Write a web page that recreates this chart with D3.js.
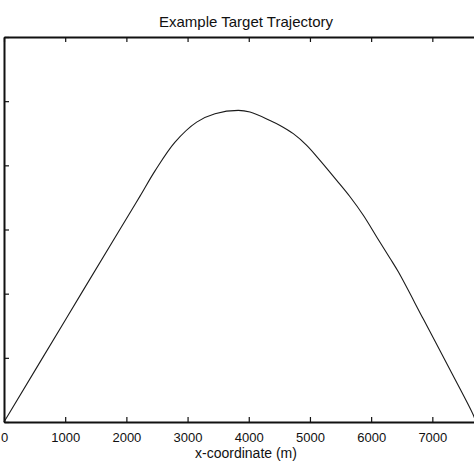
<!DOCTYPE html>
<html>
<head>
<meta charset="utf-8">
<script src="https://cdn.jsdelivr.net/npm/d3@7"></script>
<style>
  html, body { margin: 0; padding: 0; background: #fff; overflow: hidden; }
  svg { display: block; }
  text { font-family: "Liberation Sans", Arial, Helvetica, sans-serif; fill: #111; }
</style>
</head>
<body>
<script>
// ---- data ----
const title = "Example Target Trajectory";
const xLabel = "x-coordinate (m)";
const xTicks = [0, 1000, 2000, 3000, 4000, 5000, 6000, 7000];
const yTicks = [0, 500, 1000, 1500, 2000, 2500, 3000];
const trajX = [0, 1025, 1896, 2223, 2468, 2795, 3149, 3448, 3829, 4020, 4347, 4511, 4728, 4947, 5164, 5437, 5655, 5872, 6091, 6308, 6444, 6853, 7289, 7670, 7710];
const trajY = [0, 813, 1502, 1760, 1957, 2181, 2337, 2402, 2428, 2415, 2350, 2311, 2247, 2156, 2039, 1883, 1755, 1611, 1442, 1276, 1170, 802, 407, 54, 0];

// ---- layout ----
const W = 474, H = 474;
const plotLeft = 4, plotTop = 37, plotBottom = 422;
const pxPerK = 61.19;
const xDomain = [0, 7720];
const x = d3.scaleLinear().domain(xDomain).range([plotLeft, plotLeft + pxPerK * xDomain[1] / 1000]);
const y = d3.scaleLinear().domain([0, 3000]).range([plotBottom, plotTop]);

const svg = d3.select("body").append("svg").attr("width", W).attr("height", H);

// curve
const pts = trajX.map((v, i) => [v, trajY[i]]);
const line = d3.line().x(d => x(d[0])).y(d => y(d[1])).curve(d3.curveCatmullRom.alpha(0.5));
svg.append("path").datum(pts)
  .attr("d", line)
  .attr("fill", "none")
  .attr("stroke", "#1a1a1a")
  .attr("stroke-width", 1.1);

// axes (MATLAB-style box with inward ticks)
const tickLen = 5;
const bottomAxis = d3.axisBottom(x).tickValues(xTicks).tickSizeInner(-tickLen).tickSizeOuter(0).tickPadding(11).tickFormat(d3.format("d"));
const topAxis = d3.axisTop(x).tickValues(xTicks).tickSizeInner(-tickLen).tickSizeOuter(0).tickFormat("");
// y tick labels lie outside the visible window in the reference
const leftAxis = d3.axisLeft(y).tickValues(yTicks).tickSizeInner(-tickLen).tickSizeOuter(0).tickFormat("");

function styleAxis(g) {
  g.select(".domain").attr("stroke", "#111").attr("stroke-width", 2);
  g.selectAll(".tick line").attr("stroke", "#111").attr("stroke-width", 1.2);
  g.selectAll(".tick text").style("font-size", "13px").attr("fill", "#111")
    .style("font-family", "'Liberation Sans', Arial, sans-serif");
}

svg.append("g").attr("transform", `translate(0,${plotBottom})`).call(bottomAxis).call(styleAxis);
svg.append("g").attr("transform", `translate(0,${plotTop})`).call(topAxis).call(styleAxis);
svg.append("g").attr("transform", `translate(${plotLeft},0)`).call(leftAxis).call(styleAxis);

// title and label
svg.append("text").attr("x", 246).attr("y", 27).attr("text-anchor", "middle")
  .style("font-size", "15px").text(title);
svg.append("text").attr("x", 246).attr("y", 458).attr("text-anchor", "middle")
  .style("font-size", "14px").text(xLabel);
</script>
</body>
</html>
